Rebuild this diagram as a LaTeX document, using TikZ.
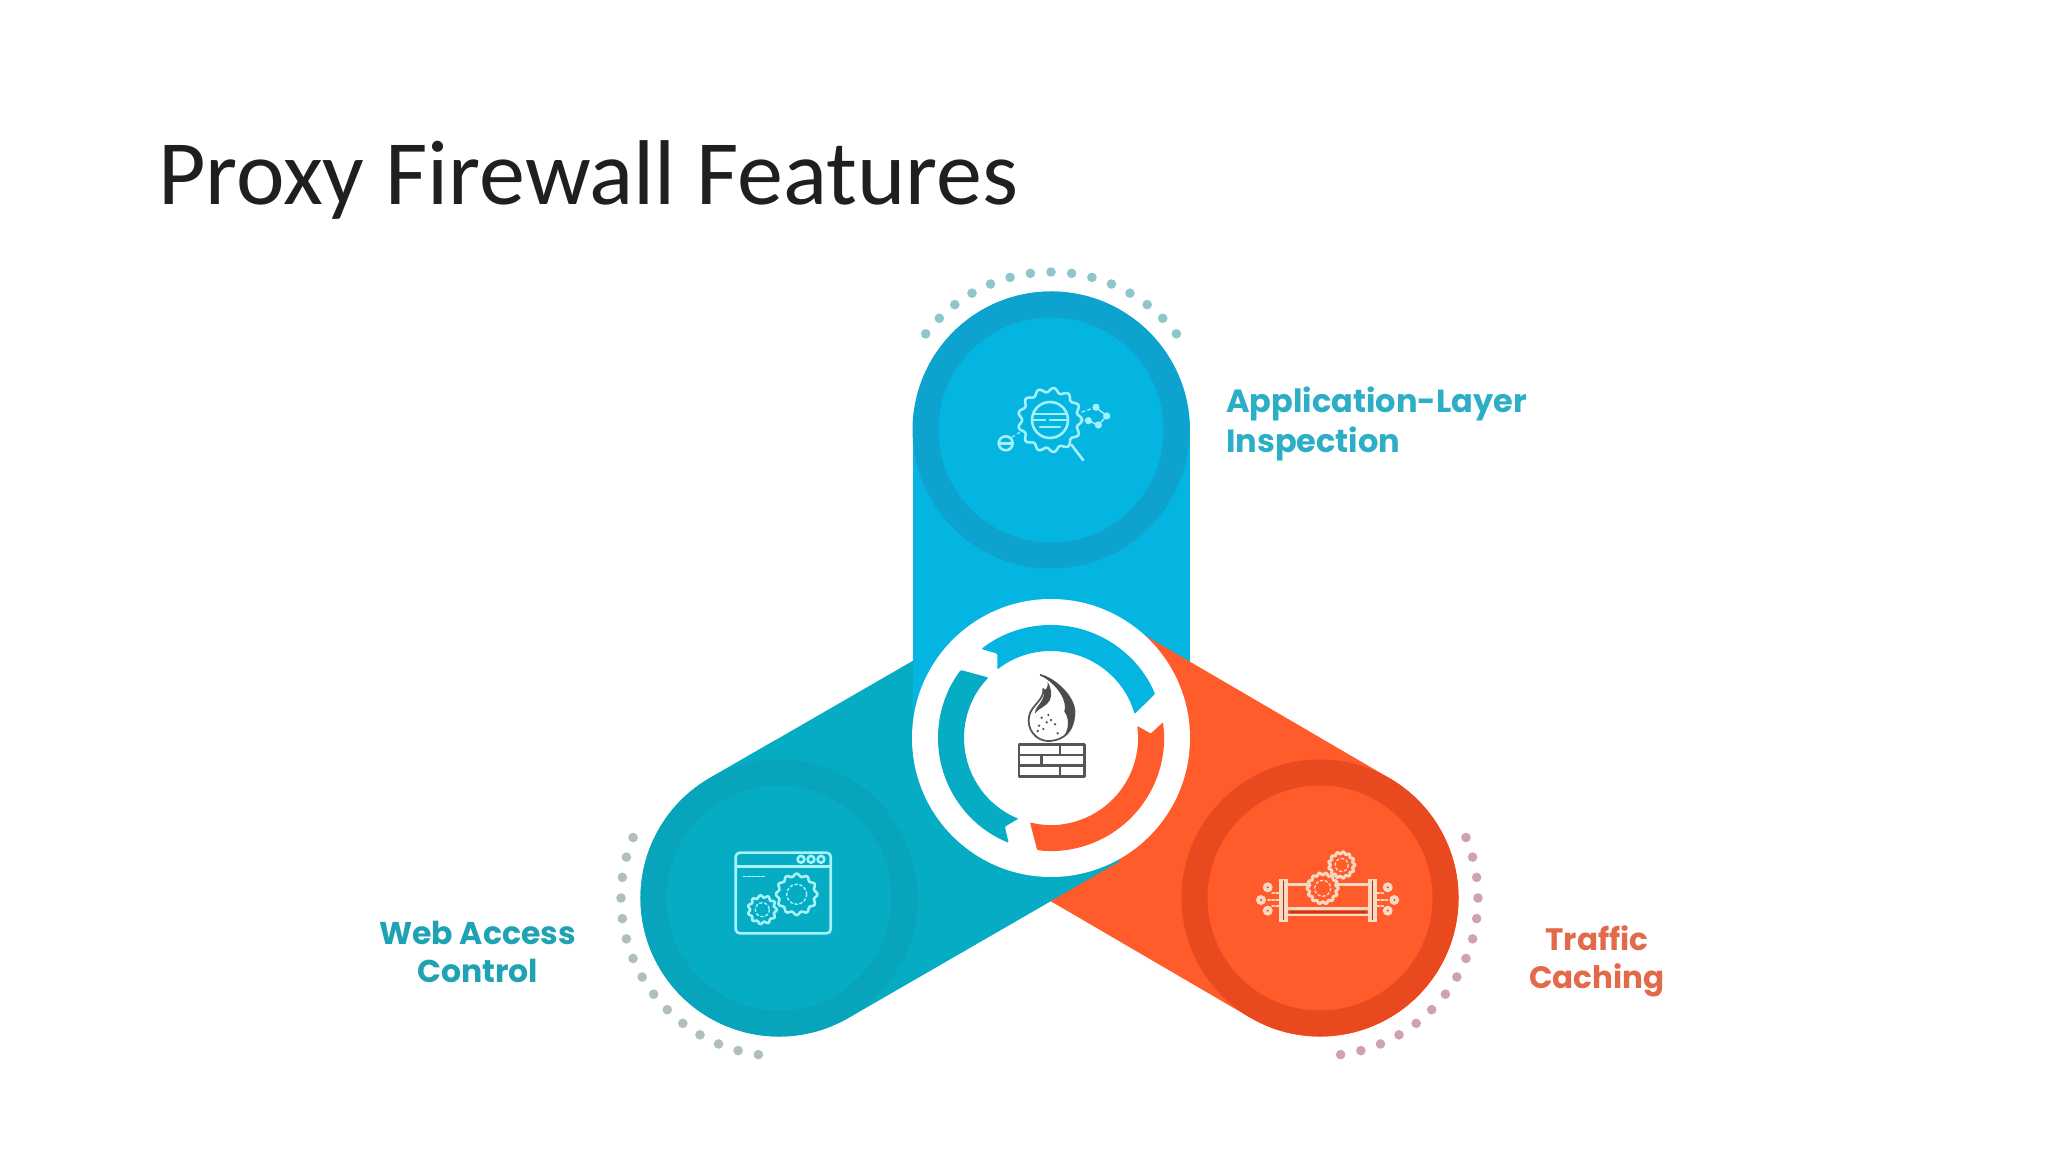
\documentclass[tikz,border=0pt]{standalone}
\usepackage{fontspec}
\setmainfont{Carlito}
\newfontfamily\labfont{Poppins}
\definecolor{bandblue}{HTML}{03B5E0}
\definecolor{darkblue}{HTML}{0DA3CE}
\definecolor{bandteal}{HTML}{05ACC4}
\definecolor{darkteal}{HTML}{08A4BB}
\definecolor{bandorange}{HTML}{FF5B2B}
\definecolor{darkorange}{HTML}{E9491E}
\definecolor{dotblue}{HTML}{8FC6CC}
\definecolor{dotteal}{HTML}{B0BEC2}
\definecolor{dotorange}{HTML}{CFA3AA}
\definecolor{iconblue}{HTML}{A5F0FB}
\definecolor{iconteal}{HTML}{A8F3FA}
\definecolor{iconorange}{HTML}{F9D9C3}
\definecolor{wallgray}{HTML}{555555}
\definecolor{labblue}{HTML}{2BAEC6}
\definecolor{labteal}{HTML}{1FA3B4}
\definecolor{laborange}{HTML}{E2694A}
\tikzset{
  band/.style={line width=277pt,line cap=round},
  labeltext/.style={inner sep=0pt},
  imgscope/.style={shift={(0,1152)},y=-1pt},
  iconline/.style={line width=2.6pt,line cap=round,line join=round},
}
% gear outline: cx, cy, mean radius, bump, teeth
\newcommand{\gearshape}[6][]{%
  \draw[#1] plot[domain=0:360,samples=121] ({#2+(#4+#5*cos(#6*\x))*cos(\x)},{#3+(#4+#5*cos(#6*\x))*sin(\x)}) -- cycle;}
\begin{document}
\begin{tikzpicture}[x=1pt,y=1pt]
\useasboundingbox (0,0) rectangle (2048,1152);
\fill[white] (0,0) rectangle (2048,1152);
\coordinate (C) at (1051,414);
\coordinate (CB) at (1051,411);
\coordinate (T) at (1051,722);
\coordinate (L) at (779,254);
\coordinate (R) at (1320,254);
% bands, cyclically overlapped
\draw[band,bandteal] (CB) -- (L);
\draw[band,bandblue] (C) -- (T);
\draw[band,bandorange] (CB) -- (R);
\begin{scope}
  \clip (600,0) rectangle (1300,411);
  \draw[band,line cap=butt,bandteal] (CB) -- (L);
\end{scope}
% heads
\fill[darkblue] (T) circle (138.5);
\fill[bandblue] (T) circle (112.5);
\fill[darkteal] (L) circle (138.5);
\fill[bandteal] (L) circle (112.5);
\fill[darkorange] (R) circle (138.5);
\fill[bandorange] (R) circle (112.5);
% centre disc
\fill[white] (C) circle (139);
% cycle arrows
\foreach \rot/\col in {0/bandblue,-120/bandorange,120/bandteal}{
  \begin{scope}[shift={(C)},rotate=\rot]
    \fill[\col,rounded corners=1pt] (128:113) arc[start angle=128,end angle=23,radius=113]
      -- (16:87) arc[start angle=16,end angle=128,radius=87] -- (122.5:100) -- cycle;
  \end{scope}
}
% dotted arcs
\foreach \i in {0,...,14}{
  \fill[dotblue] ([shift={({37.5+7.5*\i}:158)}]T) circle (4.8);
  \fill[dotteal] ([shift={({157.5+7.5*\i}:158)}]L) circle (4.8);
  \fill[dotorange] ([shift={({22.5-7.5*\i}:158)}]R) circle (4.8);
}
% icon: application-layer inspection
\begin{scope}[imgscope,iconline,iconblue]
  \gearshape{1050}{420}{30}{2.2}{13}
  \draw (1050,420) circle (18);
  \draw (1033,414) -- (1067,414);
  \draw (1033,420) -- (1045,420) (1050,420) -- (1067,420);
  \draw (1040,427) -- (1060,427);
  \draw (1071.7,445) -- (1083,460);
  \draw (1005.7,443.3) circle (7);
  \draw (998.7,443.3) -- (1012.7,443.3);
  \draw[line width=1.2pt,dashed] (1012,437) -- (1022,431);
  \foreach \a/\b in {1096/407.3,1106.7/416,1098.3/425,1088.3/420.7}{\fill (\a,\b) circle (3.6);}
  \draw[line width=1.5pt] (1096,407.3) -- (1106.7,416) -- (1098.3,425) -- (1088.3,420.7);
  \draw[line width=1.4pt,dashed] (1082,412) -- (1096,407.3);
  \draw[line width=1.4pt,dashed] (1080,420) -- (1088.3,420.7);
\end{scope}
% icon: web access control
\begin{scope}[imgscope,iconline,iconteal]
  \draw[rounded corners=4pt] (735.7,852.7) rectangle (830.7,933.3);
  \draw (735.7,866.7) -- (830.7,866.7);
  \foreach \a in {801,811,821}{\draw (\a,859.3) circle (3.4);}
  \draw[line width=1.6pt,dash pattern=on 3pt off 1.5pt] (743.3,876.7) -- (765,876.7);
  \gearshape{796.7}{894.3}{19.3}{1.4}{12}
  \draw[line width=1.4pt,dash pattern=on 2.5pt off 2.5pt] (796.7,894.3) circle (10);
  \gearshape{762.3}{909.7}{13.3}{1.2}{11}
  \draw[line width=1.4pt,dash pattern=on 2.5pt off 2.5pt] (762.3,909.7) circle (7);
\end{scope}
% icon: traffic caching
\begin{scope}[imgscope,iconline,iconorange]
  \draw[line width=3pt] (1284,884.3) -- (1307,884.3) (1338,884.3) -- (1370,884.3);
  \draw[line width=2.8pt] (1288,908.3) -- (1368,908.3);
  \draw[line width=2.8pt] (1288,915) -- (1368,915);
  \draw[line width=2.2pt,color=bandorange!70!black] (1290,911.7) -- (1366,911.7);
  \fill (1279,879) rectangle (1288,921.7);
  \fill (1368,879) rectangle (1376.7,921.7);
  \draw[line width=1.4pt,color=bandorange!60!black] (1283.5,881) -- (1283.5,919.5);
  \draw[line width=1.4pt,color=bandorange!60!black] (1372.3,881) -- (1372.3,919.5);
  \fill[bandorange] (1322.7,888.3) circle (15);
  \gearshape[line width=3pt]{1322.7}{888.3}{14.5}{1.1}{14}
  \draw[line width=1.4pt,dash pattern=on 2.5pt off 2.5pt] (1322.7,888.3) circle (8);
  \gearshape[line width=3pt]{1341.7}{865}{12.2}{1}{13}
  \draw[line width=1.4pt,dash pattern=on 2.5pt off 2.5pt] (1341.7,865) circle (6.5);
  \foreach \a/\b in {1267.7/887.3,1261/900,1267.7/910.7,1387.7/887.3,1394.3/900,1387.7/910.7}{
    \fill (\a,\b) circle (5);
    \fill[bandorange!70!black] (\a,\b) circle (1);}
  \draw[line width=1.4pt,dash pattern=on 2.5pt off 1.5pt]
    (1272,893) -- (1279,893) (1268,900) -- (1279,900) (1272,906) -- (1279,906)
    (1377,893) -- (1384,893) (1377,900) -- (1388,900) (1377,906) -- (1384,906);
\end{scope}
% firewall
\begin{scope}[shift={(1015,487)},x=0.3333pt,y=-0.3333pt]
  \draw[wallgray,line width=2.4pt,line join=round]
    (12,238) rectangle (208,335) (12,270) -- (208,270) (12,302) -- (208,302)
    (135,238) -- (135,270) (80,270) -- (80,302) (135,302) -- (135,335);
  % flame outline
  \draw[wallgray,line width=1.8pt,line join=round]
    (75,30) .. controls (120,40) and (185,100) .. (178,150)
    .. controls (175,195) and (150,225) .. (105,228)
    .. controls (60,230) and (35,190) .. (42,155)
    .. controls (48,120) and (90,105) .. (85,70);
  % flame shading
  \fill[wallgray!90!black]
    (75,30) .. controls (120,40) and (185,100) .. (178,150)
    .. controls (176,180) and (165,200) .. (148,212)
    .. controls (165,185) and (160,155) .. (148,140)
    .. controls (158,110) and (130,60) .. (75,30) -- cycle;
  \fill[wallgray!90!black]
    (98,50) .. controls (108,70) and (112,85) .. (105,105)
    .. controls (95,125) and (70,130) .. (60,145)
    .. controls (60,120) and (95,110) .. (85,70)
    .. controls (90,80) and (100,70) .. (98,50) -- cycle;
  \foreach \a/\b in {80/158,95/172,108/165,120/178,72/182,85/192,68/198,128/205,100/150}{
    \fill[wallgray] (\a,\b) circle (4);}
\end{scope}
% labels
\node[anchor=base west,font=\fontsize{92}{92}\selectfont,inner sep=0pt,text=black!88] (title) at (158,947) {Proxy Firewall Features};
\node[labeltext,anchor=north west,align=left,text=labblue,font=\labfont\bfseries\fontsize{32}{40}\selectfont] (app) at (1226,765) {Application-Layer\\Inspection};
\node[labeltext,anchor=north,align=center,text=labteal,font=\labfont\bfseries\fontsize{31.5}{38}\selectfont] (web) at (477.5,231) {Web Access\\Control};
\node[labeltext,anchor=north,align=center,text=laborange,font=\labfont\bfseries\fontsize{31}{38}\selectfont] (traffic) at (1597,227) {Traffic\\Caching};
\end{tikzpicture}
\end{document}
